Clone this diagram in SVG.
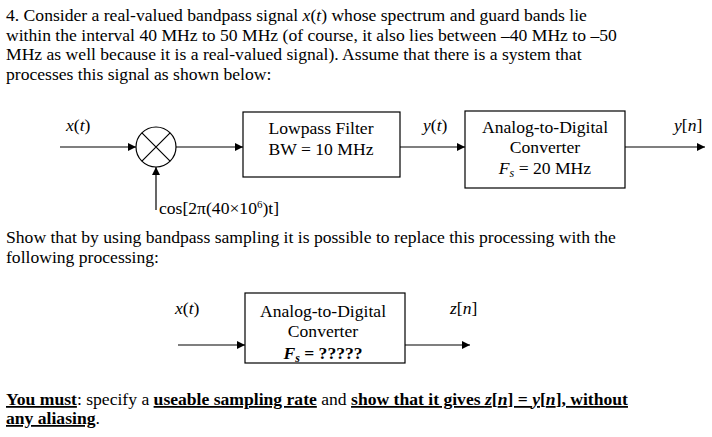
<svg xmlns="http://www.w3.org/2000/svg" width="712" height="437" viewBox="0 0 712 437">
<style>
text{font-family:"Liberation Serif",serif;font-size:17.6px;fill:#000}
.c{text-anchor:middle}
.b{fill:#fff;stroke:#000;stroke-width:1.2}
.l{stroke:#000;stroke-width:1.2;fill:none}
.u{font-weight:bold;text-decoration:underline}
</style>
<defs><marker id="a" viewBox="0 0 10 10" refX="10" refY="5" markerWidth="8" markerHeight="8" markerUnits="userSpaceOnUse" orient="auto"><path d="M0,0L10,5L0,10z"/></marker></defs>
<rect width="712" height="437" fill="#fff"/>
<g id="q">
<text x="6" y="21">4.  Consider a real-valued bandpass signal <tspan font-style="italic">x</tspan>(<tspan font-style="italic">t</tspan>) whose spectrum and guard bands lie</text>
<text x="6" y="41">within the interval 40 MHz to 50 MHz (of course, it also lies between –40 MHz to –50</text>
<text x="6" y="60">MHz as well because it is a real-valued signal).  Assume that there is a system that</text>
<text x="6" y="80">processes this signal as shown below:</text>
<text x="6" y="243">Show that by using bandpass sampling it is possible to replace this processing with the</text>
<text x="6" y="263">following processing:</text>
<text x="6" y="405"><tspan class="u">You must</tspan>: specify a <tspan class="u">useable sampling rate</tspan> and <tspan class="u">show that it gives <tspan font-style="italic">z</tspan>[<tspan font-style="italic">n</tspan>] = <tspan font-style="italic">y</tspan>[<tspan font-style="italic">n</tspan>], without</tspan></text>
<text x="6" y="424"><tspan class="u">any aliasing</tspan>.</text>
</g>
<g id="connectors">
<line class="l" x1="60" y1="147" x2="136" y2="147" marker-end="url(#a)"/>
<line class="l" x1="156" y1="210" x2="156" y2="167" marker-end="url(#a)"/>
<line class="l" x1="176" y1="147" x2="243" y2="147" marker-end="url(#a)"/>
<line class="l" x1="400" y1="147" x2="465" y2="147" marker-end="url(#a)"/>
<line class="l" x1="625" y1="147" x2="705" y2="147" marker-end="url(#a)"/>
<line class="l" x1="178" y1="345" x2="245" y2="345" marker-end="url(#a)"/>
<line class="l" x1="405" y1="345" x2="470" y2="345" marker-end="url(#a)"/>
</g>
<g id="mixer"><circle class="b" cx="156" cy="147" r="20"/><path class="l" d="M141.9,132.9L170.1,161.1M170.1,132.9L141.9,161.1"/></g>
<g id="lpf"><rect class="b" x="243" y="112" width="157" height="65"/><text class="c" x="321" y="134">Lowpass Filter</text><text class="c" x="321" y="155">BW = 10 MHz</text></g>
<g id="adc1"><rect class="b" x="465" y="111" width="160" height="77"/><text class="c" x="545" y="133">Analog-to-Digital</text><text class="c" x="545" y="153">Converter</text><text class="c" x="545" y="174"><tspan font-style="italic">F<tspan font-size="12" dy="3">s</tspan></tspan><tspan dy="-3"> = 20 MHz</tspan></text></g>
<g id="adc2"><rect class="b" x="245" y="293" width="160" height="70"/><text class="c" x="323" y="317">Analog-to-Digital</text><text class="c" x="323" y="337">Converter</text><text class="c" x="323" y="359" font-weight="bold"><tspan font-style="italic">F<tspan font-size="12" dy="3">s</tspan></tspan><tspan dy="-3"> = ?????</tspan></text></g>
<g id="labels">
<text x="66" y="131"><tspan font-style="italic">x</tspan>(<tspan font-style="italic">t</tspan>)</text>
<text x="423" y="131"><tspan font-style="italic">y</tspan>(<tspan font-style="italic">t</tspan>)</text>
<text x="674" y="131"><tspan font-style="italic">y</tspan>[<tspan font-style="italic">n</tspan>]</text>
<text x="159" y="214">cos[2π(40×10<tspan font-size="11" dy="-6">6</tspan><tspan dy="6">)t]</tspan></text>
<text x="175" y="314"><tspan font-style="italic">x</tspan>(<tspan font-style="italic">t</tspan>)</text>
<text x="450" y="314"><tspan font-style="italic">z</tspan>[<tspan font-style="italic">n</tspan>]</text>
</g>
</svg>
